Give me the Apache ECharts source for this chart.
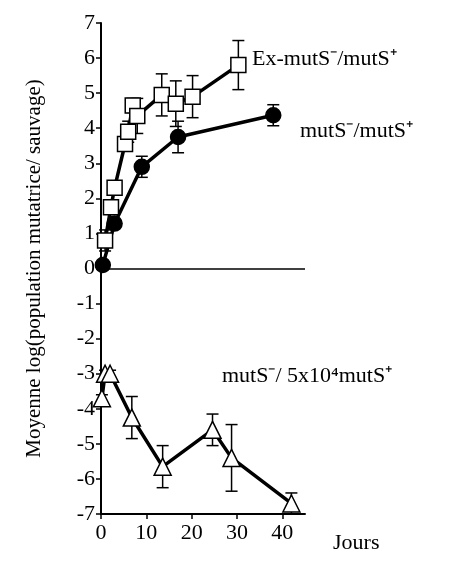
<!DOCTYPE html>
<html><head><meta charset="utf-8">
<script src="https://cdn.jsdelivr.net/npm/echarts@6/dist/echarts.min.js"></script>
<style>html,body{margin:0;background:#fff}#c{width:474px;height:579px}</style>
</head><body><div id="c"></div>
<script>
// Ex-mutS-/mutS+ : [jour, moyenne, erreur]
const exMut = [[0.9,0.8,0.3],[2.2,1.75,0.2],[3,2.3,0.2],[5.3,3.55,0.2],[6,3.9,0.3],[7,4.65,0.2],[8,4.35,0.5],[13.4,4.95,0.6],[16.5,4.7,0.65],[20.2,4.9,0.6],[30.3,5.8,0.7]]
// mutS-/mutS+
const mut = [[0.4,0.1,0.1],[3,1.28,0.1],[9,2.9,0.3],[17,3.75,0.45],[38,4.37,0.3]]
// mutS-/5x10^4 mutS+
const mut5 = [[0.2,-3.7,0.1],[0.9,-3.0,0.1],[2,-3.0,0.1],[6.8,-4.25,0.6],[13.6,-5.65,0.6],[24.6,-4.6,0.45],[28.8,-5.4,0.95],[42,-6.7,0.3]]
const xTicks = [0,10,20,30,40]

const font = 'Liberation Serif'
let chart = echarts.init(document.getElementById('c'))

function errBars (data) {
    return {
        type: 'custom',
        data: data.map(d => [d[0], d[1] - d[2], d[1] + d[2]]),
        z: 1,
        renderItem: function (params, api) {
            let lo = api.coord([api.value(0), api.value(1)])
            let hi = api.coord([api.value(0), api.value(2)])
            let w = 6
            let st = {stroke: '#000', lineWidth: 1.5}
            return {type: 'group', children: [
                {type: 'line', shape: {x1: lo[0], y1: lo[1], x2: hi[0], y2: hi[1]}, style: st},
                {type: 'line', shape: {x1: lo[0] - w, y1: lo[1], x2: lo[0] + w, y2: lo[1]}, style: st},
                {type: 'line', shape: {x1: hi[0] - w, y1: hi[1], x2: hi[0] + w, y2: hi[1]}, style: st}
            ]}
        }
    }
}

function line (data, symbol, fill, size) {
    return {
        type: 'line', data: data.map(d => [d[0], d[1]]),
        symbol: symbol, symbolSize: size, z: 3,
        lineStyle: {color: '#000', width: 3.5},
        itemStyle: {color: fill, borderColor: '#000', borderWidth: 1.5}
    }
}

let option = {
    animation: false,
    grid: {left: 101, right: 169, top: 23, bottom: 65},
    xAxis: {
        type: 'value', min: 0, max: 45,
        axisLine: {onZero: false, lineStyle: {color: '#000', width: 2}},
        axisTick: {customValues: xTicks, lineStyle: {color: '#000', width: 1.5}},
        axisLabel: {color: '#000', fontFamily: font, fontSize: 22, customValues: xTicks},
        splitLine: {show: false}
    },
    yAxis: {
        type: 'value', min: -7, max: 7, interval: 1,
        axisLine: {lineStyle: {color: '#000', width: 2}},
        axisTick: {lineStyle: {color: '#000', width: 1.5}},
        axisLabel: {color: '#000', fontFamily: font, fontSize: 22, margin: 6},
        splitLine: {show: false},
        name: 'Moyenne log(population mutatrice/ sauvage)',
        nameLocation: 'middle', nameGap: 56, nameRotate: 90,
        nameTextStyle: {color: '#000', fontFamily: font, fontSize: 21}
    },
    graphic: [
        {type: 'text', left: 333, top: 532, style: {text: 'Jours', font: '22px "Liberation Serif"', fill: '#000'}},
        {type: 'text', left: 252, top: 48, style: {text: 'Ex-mutS⁻/mutS⁺', font: '22px "Liberation Serif"', fill: '#000'}},
        {type: 'text', left: 300, top: 120, style: {text: 'mutS⁻/mutS⁺', font: '22px "Liberation Serif"', fill: '#000'}},
        {type: 'text', left: 222, top: 365, style: {text: 'mutS⁻/ 5x10⁴mutS⁺', font: '22px "Liberation Serif"', fill: '#000'}}
    ],
    series: [
        errBars(exMut), errBars(mut), errBars(mut5),
        Object.assign(line(mut, 'circle', '#000', 15), {
            markLine: {silent: true, symbol: 'none', label: {show: false},
                lineStyle: {color: '#000', width: 1.5, type: 'solid'},
                data: [{yAxis: 0}]}
        }),
        line(exMut, 'rect', '#fff', 15),
        line(mut5, 'triangle', '#fff', 17)
    ]
}
chart.setOption(option)
</script></body></html>
